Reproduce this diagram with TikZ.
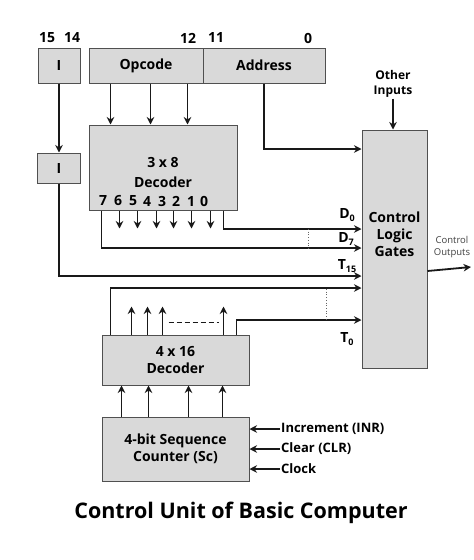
\documentclass[tikz,border=0pt]{standalone}
\usepackage{fontspec}
\setmainfont{Open Sans}
\usetikzlibrary{arrows.meta,calc}
\definecolor{boxfill}{HTML}{D9D9D9}
\definecolor{boxline}{HTML}{505050}
\tikzset{
  box/.style={draw=boxline,fill=boxfill,line width=1pt,inner sep=0pt,font=\fontsize{14}{17}\selectfont\bfseries,align=center},
  wire/.style={line width=1.8pt,draw=black!90},
  arr/.style={wire,-{Stealth[length=7.5pt,width=7.5pt]}},
  lbl/.style={font=\fontsize{14}{17}\selectfont\bfseries,inner sep=1pt},
  smlbl/.style={font=\fontsize{12}{15}\selectfont\bfseries,inner sep=1pt,align=center},
  dotline/.style={line width=0.7pt,draw=black!60,dotted},
}
\newcommand{\sub}[2]{#1\raisebox{-2.5pt}{\fontsize{9}{9}\selectfont #2}}
\begin{document}
\begin{tikzpicture}[x=1pt,y=-1pt]
\useasboundingbox (0,0) rectangle (474,560);
% instruction register
\node[box,minimum width=42,minimum height=35] (ib) at (59,65.5) {I};
\node[box,minimum width=114,minimum height=35] (opc) at (146,65.5) {Opcode};
\node[box,minimum width=122,minimum height=35] (addr) at (264,65.5) {Address};
\node[lbl] (b15) at (47,38) {15};
\node[lbl] (b14) at (72,38) {14};
\node[lbl] (b12) at (188,38) {12};
\node[lbl] (b11) at (216,38) {11};
\node[lbl] (b0) at (308,38) {0};
% I flip-flop
\node[box,minimum width=43,minimum height=30] (i2) at (59,168) {I};
% 3x8 decoder
\node[box,minimum width=148,minimum height=85] (dec3) at (163,167.5) {};
\node[lbl] (d3a) at (163,162) {3 x 8};
\node[lbl] (d3b) at (163,182) {Decoder};
\foreach \d/\x in {7/103,6/118,5/133,4/147,3/162,2/176,1/191,0/204}{
  \node[lbl] (dg\d) at (\x,201) {\d};
}
% control logic gates
\node[box,minimum width=65,minimum height=238] (clg) at (394.5,249) {};
\node[lbl,align=center] (clgt) at (394.5,234) {Control\\Logic\\Gates};
% 4x16 decoder
\node[box,minimum width=147,minimum height=50] (dec4) at (175.5,360) {4 x 16\\Decoder};
% counter
\node[box,minimum width=147,minimum height=64] (cnt) at (175.5,449) {4-bit Sequence\\Counter (Sc)};
% labels
\node[smlbl] (oi) at (393,84) {Other\\Inputs};
\node[lbl] (ld0) at (347,215) {\sub{D}{0}};
\node[lbl] (ld7) at (346,239) {\sub{D}{7}};
\node[lbl] (lt15) at (347,266) {\sub{T}{15}};
\node[lbl] (lt0) at (347,339) {\sub{T}{0}};
\node[font=\fontsize{9.5}{12}\selectfont,text=black!75,align=center,inner sep=1pt] (co) at (452,247) {Control\\Outputs};
\node[smlbl,anchor=west,font=\fontsize{13}{15}\selectfont\bfseries] (inr) at (280,429) {Increment (INR)};
\node[smlbl,anchor=west,font=\fontsize{13}{15}\selectfont\bfseries] (clr) at (280,449) {Clear (CLR)};
\node[smlbl,anchor=west,font=\fontsize{13}{15}\selectfont\bfseries] (clk) at (280,469) {Clock};
\node[font=\fontsize{21.5}{25}\selectfont\bfseries] (title) at (241,513) {Control Unit of Basic Computer};
\coordinate (out) at (471,267);
% connectors
\draw[arr] (ib.south) -- (i2.north);
\foreach \s in {22,62,99}{
  \draw[arr] ([xshift=\s pt]opc.south west) coordinate (t) -- (t |- dec3.north);
}
\draw[arr] (addr.south) |- ([yshift=100pt]clg.west);
\draw[arr] (oi.south) -- (oi.south |- clg.north);
\foreach \s in {31,49,68,85,103,122}{
  \draw[arr] ([xshift=\s pt]dec3.south west) -- ++(0,18);
}
\draw[arr] ([xshift=135pt]dec3.south west) |- ([yshift=20pt]clg.west);
\draw[arr] ([xshift=13pt]dec3.south west) |- ([yshift=1pt]clg.west);
\draw[arr] (i2.south) |- ([yshift=-27pt]clg.west);
\draw[arr] ([xshift=9pt]dec4.north west) |- ([yshift=-39pt]clg.west);
\draw[arr] ([xshift=135pt]dec4.north west) |- ([yshift=-71pt]clg.west);
\foreach \s in {30,46,61,122}{
  \draw[arr] ([xshift=\s pt]dec4.north west) -- ++(0,-28);
}
\draw[wire,dash pattern=on 5pt off 3pt] ([shift={(67pt,12pt)}]dec4.north west) -- ++(50,0);
\draw[dotline] (308,229) -- (308,248);
\draw[dotline] (326,289) -- (326,320);
\foreach \s in {20,47,87,121}{
  \draw[arr] ([xshift=\s pt]cnt.north west) coordinate (t) -- (t |- dec4.south);
}
\draw[arr] (inr.west) -- (inr.west -| cnt.east);
\draw[arr] (clr.west) -- (clr.west -| cnt.east);
\draw[arr] (clk.west) -- (clk.west -| cnt.east);
\draw[arr] ([yshift=-22pt]clg.east) -- (out);
\end{tikzpicture}
\end{document}
